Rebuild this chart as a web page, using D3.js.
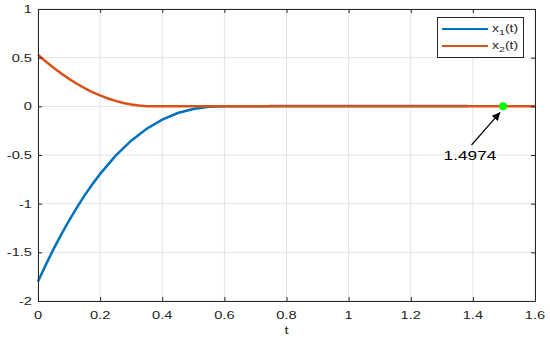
<!DOCTYPE html>
<html>
<head>
<meta charset="utf-8">
</head>
<body style="margin: 0 0 0 0; background: #fff;">
<svg id="chart"></svg>
<script src="https://cdnjs.cloudflare.com/ajax/libs/d3/7.8.5/d3.min.js"></script>
<script type="text/javascript">

// values
var tX1 = [0, 0.025, 0.05, 0.075, 0.1, 0.125, 0.15, 0.175, 0.2, 0.25, 0.3, 0.35, 0.4, 0.45, 0.5, 0.55, 0.6, 0.74, 0.75, 1.385]
var x1 = [-1.8, -1.629, -1.467, -1.315, -1.173, -1.04, -0.915, -0.8, -0.694, -0.507, -0.353, -0.23, -0.136, -0.069, -0.027, -0.005, 0, 0, 0.003, 0.003]

var tX2 = [0, 0.025, 0.05, 0.075, 0.1, 0.125, 0.15, 0.175, 0.2, 0.225, 0.25, 0.275, 0.3, 0.325, 0.35, 0.37, 1.6]
var x2 = [0.53, 0.461, 0.397, 0.337, 0.282, 0.232, 0.187, 0.147, 0.112, 0.081, 0.056, 0.035, 0.019, 0.008, 0.002, 0, 0]

var xTicks = [0, 0.2, 0.4, 0.6, 0.8, 1, 1.2, 1.4, 1.6]
var yTicks = [1, 0.5, 0, -0.5, -1, -1.5, -2]
var seriesNames = ["x1(t)", "x2(t)"]
var seriesColors = ["#0072BD", "#D95319"]
var markT = 1.4974
var markV = 0
var markLabel = "1.4974"

var W = 550, H = 341
var pLeft = 38, pRight = 535, pTop = 9, pBottom = 301
var sx = 1.33 // the picture is stretched sideways

var svg = d3.select("#chart").attr("width", W).attr("height", H)

var x = d3.scaleLinear().domain([0, 1.6]).range([pLeft, pRight])
var y = d3.scaleLinear().domain([-2, 1]).range([pBottom, pTop])

var font = "'Liberation Sans', Arial, sans-serif"
var label = function(g, txt, px, py, anchor, size) {
  return g.append("text")
    .attr("transform", "translate(" + px + "," + py + ") scale(" + sx + ",1)")
    .attr("text-anchor", anchor)
    .attr("font-family", font)
    .attr("font-size", size)
    .attr("fill", "#262626")
    .text(txt)
}

// grid
var grid = svg.append("g")
grid.selectAll("line.gx").data(xTicks).enter().append("line")
  .attr("x1", function(d) { return x(d) }).attr("x2", function(d) { return x(d) })
  .attr("y1", pTop).attr("y2", pBottom)
  .attr("stroke", "#e3e3e3").attr("stroke-width", 1)
grid.selectAll("line.gy").data(yTicks).enter().append("line")
  .attr("y1", function(d) { return y(d) }).attr("y2", function(d) { return y(d) })
  .attr("x1", pLeft).attr("x2", pRight)
  .attr("stroke", "#e3e3e3").attr("stroke-width", 1)

// curves
var line = d3.line().x(function(d) { return x(d[0]) }).y(function(d) { return y(d[1]) })
svg.append("path")
  .datum(d3.zip(tX1, x1))
  .attr("d", line).attr("fill", "none")
  .attr("stroke", seriesColors[0]).attr("stroke-width", 2.5)
svg.append("path")
  .datum(d3.zip(tX2, x2))
  .attr("d", line).attr("fill", "none")
  .attr("stroke", seriesColors[1]).attr("stroke-width", 2.5)

// axes: box with inward ticks on all four sides
var axisColor = "#262626"
var gb = svg.append("g").attr("transform", "translate(0," + pBottom + ")")
  .call(d3.axisBottom(x).tickValues(xTicks).tickSizeInner(-4).tickSizeOuter(0).tickFormat(""))
var gt = svg.append("g").attr("transform", "translate(0," + pTop + ")")
  .call(d3.axisTop(x).tickValues(xTicks).tickSizeInner(-4).tickSizeOuter(0).tickFormat(""))
var gl = svg.append("g").attr("transform", "translate(" + pLeft + ",0)")
  .call(d3.axisLeft(y).tickValues(yTicks).tickSizeInner(-4).tickSizeOuter(0).tickFormat(""))
var gr = svg.append("g").attr("transform", "translate(" + pRight + ",0)")
  .call(d3.axisRight(y).tickValues(yTicks).tickSizeInner(-4).tickSizeOuter(0).tickFormat(""))
;[gb, gt, gl, gr].forEach(function(g) {
  g.selectAll("path, line").attr("stroke", axisColor).attr("stroke-width", 1)
})

// tick labels
var tl = svg.append("g")
xTicks.forEach(function(d) { label(tl, String(d), x(d), 318.5, "middle", 11) })
yTicks.forEach(function(d) { label(tl, String(d), 32, y(d) + 4, "end", 11) })
label(tl, "t", (pLeft + pRight) / 2, 334, "middle", 11)

// marker and annotation
svg.append("circle")
  .attr("cx", x(markT)).attr("cy", y(markV)).attr("r", 4)
  .attr("fill", "#00ff00")

svg.append("defs").append("marker")
  .attr("id", "head").attr("viewBox", "0 0 10 10")
  .attr("refX", 10).attr("refY", 5)
  .attr("markerWidth", 10).attr("markerHeight", 8)
  .attr("markerUnits", "userSpaceOnUse")
  .attr("orient", "auto")
  .append("path").attr("d", "M0,0 L10,5 L0,10 z").attr("fill", "#000")

svg.append("line")
  .attr("x1", 471.5).attr("y1", 145)
  .attr("x2", x(markT) - 3).attr("y2", y(markV) + 6)
  .attr("stroke", "#000").attr("stroke-width", 1.2)
  .attr("marker-end", "url(#head)")

label(svg, markLabel, 470, 159.5, "middle", 13).attr("fill", "#000")

// legend
var lg = svg.append("g")
lg.append("rect")
  .attr("x", 437.5).attr("y", 17.5).attr("width", 86).attr("height", 40)
  .attr("fill", "#fff").attr("stroke", axisColor).attr("stroke-width", 1)
seriesNames.forEach(function(n, i) {
  var ly = 29 + i * 17
  lg.append("line")
    .attr("x1", 442).attr("x2", 488).attr("y1", ly).attr("y2", ly)
    .attr("stroke", seriesColors[i]).attr("stroke-width", 2)
  var t = lg.append("text")
    .attr("transform", "translate(492," + (ly + 3) + ") scale(" + sx + ",1)")
    .attr("font-family", font).attr("font-size", 10.5).attr("fill", "#262626")
  t.append("tspan").text(n.charAt(0))
  t.append("tspan").attr("font-size", 8).attr("dy", 3).text(n.substring(1, 2))
  t.append("tspan").attr("dy", -3).text(n.substring(2))
})

</script>
</body>
</html>
